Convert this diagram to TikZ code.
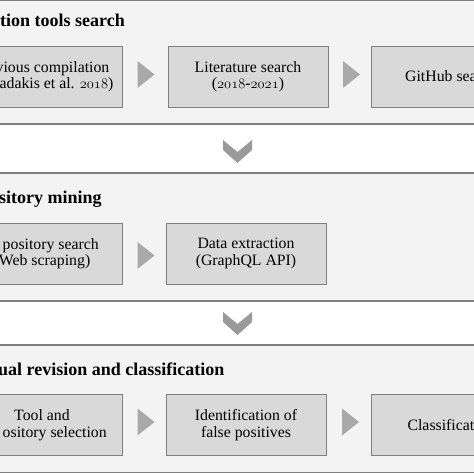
\documentclass[tikz,border=0pt]{standalone}
\usepackage{fontspec}
\setmainfont{Liberation Serif}
\usetikzlibrary{calc}
\definecolor{panelgray}{HTML}{F3F3F3}
\definecolor{boxgray}{HTML}{D9D9D9}
\definecolor{linegray}{HTML}{7F7F7F}
\definecolor{arrowgray}{HTML}{A9A9A9}
\definecolor{chevrongray}{HTML}{9A9A9A}
\tikzset{
	panel/.style={fill=panelgray,draw=linegray,line width=1.3pt},
	stage/.style={draw=linegray,fill=boxgray,line width=0.8pt,minimum width=160pt,minimum height=61pt,inner sep=0pt,align=center,font=\fontsize{15.8}{16.5}\selectfont},
	heading/.style={anchor=base west,inner sep=0pt,font=\fontsize{18}{20}\selectfont\bfseries}
}
\newcommand\yearnum[1]{{\usefont{OML}{cmm}{m}{it}#1}}
\newcommand\stagearrow[1]{\fill[arrowgray] (#1) ++(-8.5,-13.5) -- ++(17,13.5) -- ++(-17,13.5) -- cycle;}
\newcommand\nextchevron[1]{\fill[chevrongray] (#1) ++(-14.5,-11.5) -- ++(14.5,12) -- ++(14.5,-12) -- ++(0,10) -- ++(-14.5,13) -- ++(-14.5,-13) -- cycle;}
\begin{document}
\begin{tikzpicture}[x=1pt,y=-1pt]
	\useasboundingbox (0,0) rectangle (474,474);
	\clip (0,0) rectangle (474,474);
	% panels
	\draw[panel] (-20,0.6) rectangle (494,124);
	\draw[panel] (-20,173) rectangle (494,301);
	\draw[panel] (-20,345) rectangle (494,472.4);
	% headings
	\node[heading] (h1) at (0,26.7) {tion tools search};
	\node[heading] (h2) at (-1,203) {sitory mining};
	\node[heading] (h3) at (-2,375.5) {ual revision and classification};
	% tools search
	\node[stage] (prev) at (42,76.5) {\phantom{Pre}vious compilation\\\phantom{(Pap}adakis et al. \yearnum{2018})};
	\node[stage] (lit) at (248,76.5) {Literature search\\(\yearnum{2018}-\yearnum{2021})};
	\node[stage] (git) at (451,76.5) {GitHub sea\phantom{rch}};
	\stagearrow{$(prev.east)!0.5!(lit.west)+(1,-2)$}
	\stagearrow{$(lit.east)!0.5!(git.west)+(2,-2)$}
	\nextchevron{237.5,151.5}
	% repository mining
	\node[stage] (repo) at (42,253.5) {\phantom{Re}pository search\\\phantom{(}Web scraping)};
	\node[stage] (data) at (246,253.5) {Data extraction\\(GraphQL API)};
	\stagearrow{$(repo.east)!0.5!(data.west)+(2,2)$}
	\nextchevron{237.5,323.5}
	% revision and classification
	\node[stage] (sel) at (42,425) {Tool and\\\phantom{Rep}ository selection};
	\node[stage] (fp) at (246,425) {Identification of\\false positives};
	\node[stage] (cls) at (451,425) {Classificat\phantom{ion}};
	\stagearrow{$(sel.east)!0.5!(fp.west)+(2,-3)$}
	\stagearrow{$(fp.east)!0.5!(cls.west)+(2,-3)$}
\end{tikzpicture}
\end{document}
